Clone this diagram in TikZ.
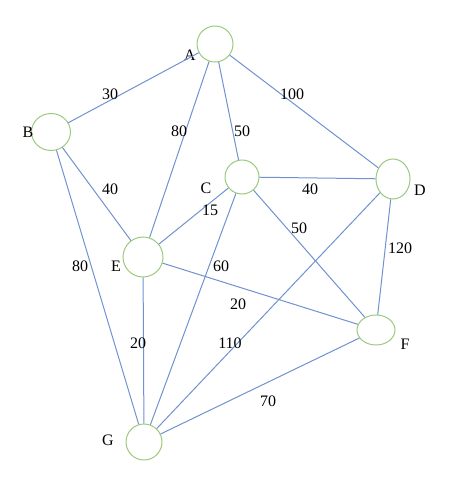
\documentclass[tikz,border=0pt]{standalone}
\usepackage{fontspec}
\setmainfont{Liberation Serif}
\usetikzlibrary{shapes.geometric}
\definecolor{Leaf}{HTML}{9CC97D}
\definecolor{Steel}{HTML}{7092D0}

\begin{document}
\begin{tikzpicture}[x=1pt,y=-1pt,
    vert/.style={ellipse,draw=Leaf,line width=1pt,inner sep=0pt},
    edge/.style={Steel,line width=1pt},
    lbl/.style={text=black,inner sep=0pt,font=\fontsize{16}{18}\selectfont}]
    \useasboundingbox (0,0) rectangle (474,484);

    \node[vert,minimum width=36,minimum height=36] (a) at (215,44) {};
    \node[vert,minimum width=39,minimum height=37] (b) at (51,132) {};
    \node[vert,minimum width=34,minimum height=34] (c) at (242,177) {};
    \node[vert,minimum width=34,minimum height=40] (d) at (393,179) {};
    \node[vert,minimum width=40,minimum height=40] (e) at (143,257) {};
    \node[vert,minimum width=38,minimum height=30] (f) at (376,330) {};
    \node[vert,minimum width=36,minimum height=36] (g) at (144,442) {};

    \node[lbl] (na) at (190,55) {A};
    \node[lbl] (nb) at (28,132) {B};
    \node[lbl] (nc) at (206,188) {C};
    \node[lbl] (nd) at (420,190) {D};
    \node[lbl] (ne) at (116,266) {E};
    \node[lbl] (nf) at (405,344) {F};
    \node[lbl] (ng) at (108,440) {G};

    \draw[edge] (a) -- (b);
    \draw[edge] (a) -- (e);
    \draw[edge] (a) -- (c);
    \draw[edge] (a) -- (d);
    \draw[edge] (b) -- (e);
    \draw[edge] (b) -- (g);
    \draw[edge] (c) -- (e);
    \draw[edge] (c) -- (d);
    \draw[edge] (c) -- (f);
    \draw[edge] (c) -- (g);
    \draw[edge] (d) -- (f);
    \draw[edge] (d) -- (g);
    \draw[edge] (e) -- (f);
    \draw[edge] (e) -- (g);
    \draw[edge] (f) -- (g);

    \node[lbl] (wab) at (110,94) {30};
    \node[lbl] (wad) at (292,94) {100};
    \node[lbl] (wae) at (179,131) {80};
    \node[lbl] (wac) at (242,131) {50};
    \node[lbl] (wbe) at (110,189) {40};
    \node[lbl] (wcd) at (310,189) {40};
    \node[lbl] (wce) at (210,210) {15};
    \node[lbl] (wcf) at (299,228) {50};
    \node[lbl] (wdf) at (400,248) {120};
    \node[lbl] (wbg) at (80,266) {80};
    \node[lbl] (wcg) at (221,266) {60};
    \node[lbl] (wef) at (238,304) {20};
    \node[lbl] (weg) at (138,343) {20};
    \node[lbl] (wdg) at (230,343) {110};
    \node[lbl] (wfg) at (268,401) {70};
\end{tikzpicture}
\end{document}
